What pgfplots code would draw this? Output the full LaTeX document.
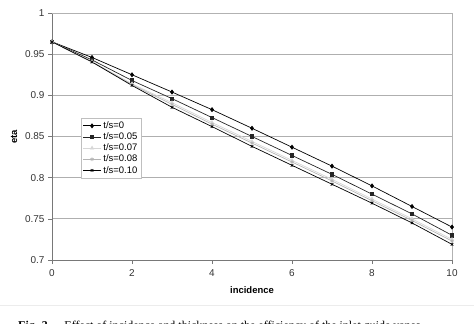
\documentclass[border=0pt]{standalone}
\usepackage{pgfplots}
\pgfplotsset{compat=1.18}
\usepackage{fontspec}
\setmainfont{Liberation Sans}
\newfontfamily\serifcap{Liberation Serif}
\definecolor{gridc}{RGB}{175,175,175}
\definecolor{axc}{RGB}{120,120,120}
\definecolor{lg1}{RGB}{215,215,215}
\definecolor{lg2}{RGB}{180,180,180}
\begin{document}
\begin{tikzpicture}[x=1bp,y=1bp]
\useasboundingbox (0,0) rectangle (474,323);
\begin{axis}[
  at={(52bp,63bp)}, anchor=south west,
  scale only axis, width=400bp, height=247bp,
  xmin=0, xmax=10, ymin=0.7, ymax=1,
  xtick={0,2,4,6,8,10}, ytick={0.7,0.75,0.8,0.85,0.9,0.95,1},
  yticklabels={0.7,0.75,0.8,0.85,0.9,0.95,1},
  /pgf/number format/assume math mode=true,
  ymajorgrids, grid style={gridc, line width=0.8pt},
  axis line style={draw=none},
  tick align=outside, tick style={axc, line width=0.6pt},
  major tick length=4bp,
  xtick pos=bottom, ytick pos=left,
  tick label style={font=\fontsize{10}{12}\selectfont, text=black!80},
  xticklabel style={yshift=-2bp},
  xlabel={\textbf{incidence}}, ylabel={\textbf{eta}},
  label style={font=\fontsize{9.5}{11}\selectfont},
  xlabel style={at={(axis description cs:0.5,-0.1215)}, anchor=center},
  ylabel style={at={(axis description cs:-0.095,0.498)}, anchor=center, rotate=0},
  legend style={at={(axis cs:0.725,0.8725)}, anchor=north west, draw=gray!50, fill=white,
    font=\fontsize{9.5}{11}\selectfont, inner sep=1.5pt, row sep=-1.2pt, cells={anchor=west},
    legend image post style={}},
  legend image code/.code={\draw[#1] (0bp,0bp) -- (18bp,0bp); \draw[#1, mark repeat=1] plot coordinates {(9bp,0bp)};},
  clip=false,
]
\draw[axc, line width=0.9pt] (rel axis cs:0,1) -- (rel axis cs:0,0) -- (rel axis cs:1,0);
\draw[gray!60, line width=0.9pt] (rel axis cs:0,1) -- (rel axis cs:1,1) -- (rel axis cs:1,0);
\addplot[black, line width=0.7pt, mark=diamond*, mark size=2pt] coordinates {
(0,0.965) (1,0.946) (2,0.925) (3,0.904) (4,0.8826) (5,0.860) (6,0.837) (7,0.814) (8,0.790) (9,0.765) (10,0.740)};
\addlegendentry{t/s=0}
\addplot[black!85, line width=0.7pt, mark=square*, mark size=1.7pt] coordinates {
(0,0.965) (1,0.943) (2,0.918) (3,0.896) (4,0.873) (5,0.850) (6,0.827) (7,0.804) (8,0.780) (9,0.756) (10,0.730)};
\addlegendentry{t/s=0.05}
\addplot[lg1, line width=0.7pt, mark=triangle*, mark size=1.8pt] coordinates {
(0,0.965) (1,0.941) (2,0.914) (3,0.891) (4,0.867) (5,0.844) (6,0.821) (7,0.798) (8,0.774) (9,0.750) (10,0.725)};
\addlegendentry{t/s=0.07}
\addplot[lg2, line width=0.7pt, mark=asterisk, mark size=1.8pt] coordinates {
(0,0.965) (1,0.9405) (2,0.913) (3,0.889) (4,0.865) (5,0.842) (6,0.819) (7,0.796) (8,0.772) (9,0.748) (10,0.723)};
\addlegendentry{t/s=0.08}
\addplot[black, line width=0.7pt, mark=x, mark size=1.8pt] coordinates {
(0,0.965) (1,0.9405) (2,0.912) (3,0.8855) (4,0.862) (5,0.838) (6,0.815) (7,0.792) (8,0.769) (9,0.745) (10,0.719)};
\addlegendentry{t/s=0.10}
\end{axis}
\draw[gray!15, line width=0.8pt] (0,18) -- (474,18);
\begin{scope}
\clip (0,0) rectangle (474,323);
\node[anchor=base west, inner sep=0pt, font=\serifcap\fontsize{12}{14}\selectfont] at (18,-6) {\textbf{Fig. 3}\hspace{1.4em}Effect of incidence and thickness on the efficiency of the inlet guide vanes};
\end{scope}
\end{tikzpicture}
\end{document}
